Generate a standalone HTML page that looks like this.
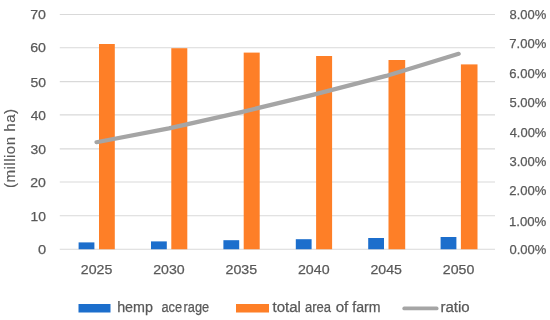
<!DOCTYPE html>
<html>
<head>
<meta charset="utf-8">
<title>hemp acerage chart</title>
<style>
html,body{margin:0;padding:0;background:#fff;}
body{width:550px;height:320px;overflow:hidden;}
svg{display:block;}
text{font-family:"Liberation Sans",sans-serif;fill:#595959;stroke:#595959;stroke-width:0.25px;}
</style>
</head>
<body>
<svg width="550" height="320" viewBox="0 0 550 320">
<rect width="550" height="320" fill="#ffffff"/>
<g stroke="#d9d9d9" stroke-width="1.1">
<line x1="59.8" x2="495" y1="249.25" y2="249.25"/>
<line x1="59.8" x2="495" y1="215.80" y2="215.80"/>
<line x1="59.8" x2="495" y1="182.00" y2="182.00"/>
<line x1="59.8" x2="495" y1="148.90" y2="148.90"/>
<line x1="59.8" x2="495" y1="114.90" y2="114.90"/>
<line x1="59.8" x2="495" y1="81.60" y2="81.60"/>
<line x1="59.8" x2="495" y1="47.70" y2="47.70"/>
<line x1="59.8" x2="495" y1="14.50" y2="14.50"/>
</g>
<g fill="#1c6ecc">
<rect x="78.6" y="242.4" width="15.8" height="6.85"/>
<rect x="151.0" y="241.4" width="15.8" height="7.85"/>
<rect x="223.4" y="240.2" width="15.8" height="9.05"/>
<rect x="295.8" y="239.2" width="15.8" height="10.05"/>
<rect x="368.2" y="238.0" width="15.8" height="11.25"/>
<rect x="440.6" y="237.0" width="15.8" height="12.25"/>
</g>
<g fill="#fe7f27">
<rect x="99.0" y="44.0" width="15.8" height="205.25"/>
<rect x="171.3" y="48.2" width="16.0" height="201.05"/>
<rect x="243.7" y="52.6" width="16.0" height="196.65"/>
<rect x="316.1" y="56.0" width="16.0" height="193.25"/>
<rect x="388.5" y="60.0" width="16.7" height="189.25"/>
<rect x="460.9" y="64.4" width="16.6" height="184.85"/>
</g>
<polyline fill="none" stroke="#a5a5a5" stroke-width="4.2" stroke-linecap="round" stroke-linejoin="round" points="96.5,142.2 168.9,128.4 241.3,112.1 313.7,94.6 386.1,75.9 458.7,53.8"/>
<text id="l0" font-size="13.6" x="37.92" y="253.90" textLength="8.15" lengthAdjust="spacingAndGlyphs">0</text>
<text id="l10" font-size="13.6" x="30.55" y="221.07" textLength="15.40" lengthAdjust="spacingAndGlyphs">10</text>
<text id="l20" font-size="13.6" x="30.30" y="186.84" textLength="15.65" lengthAdjust="spacingAndGlyphs">20</text>
<text id="l30" font-size="13.6" x="30.43" y="153.76" textLength="15.53" lengthAdjust="spacingAndGlyphs">30</text>
<text id="l40" font-size="13.6" x="30.68" y="120.04" textLength="15.28" lengthAdjust="spacingAndGlyphs">40</text>
<text id="l50" font-size="13.6" x="30.43" y="86.71" textLength="15.53" lengthAdjust="spacingAndGlyphs">50</text>
<text id="l60" font-size="13.6" x="30.18" y="52.48" textLength="15.78" lengthAdjust="spacingAndGlyphs">60</text>
<text id="l70" font-size="13.6" x="30.18" y="19.45" textLength="15.78" lengthAdjust="spacingAndGlyphs">70</text>
<text id="r0" font-size="13.6" x="509.43" y="254.40" textLength="36.90" lengthAdjust="spacingAndGlyphs">0.00%</text>
<text id="r1" font-size="13.6" x="508.93" y="225.56" textLength="37.40" lengthAdjust="spacingAndGlyphs">1.00%</text>
<text id="r2" font-size="13.6" x="509.30" y="195.47" textLength="37.02" lengthAdjust="spacingAndGlyphs">2.00%</text>
<text id="r3" font-size="13.6" x="509.43" y="165.99" textLength="36.90" lengthAdjust="spacingAndGlyphs">3.00%</text>
<text id="r4" font-size="13.6" x="509.68" y="136.55" textLength="36.65" lengthAdjust="spacingAndGlyphs">4.00%</text>
<text id="r5" font-size="13.6" x="509.43" y="107.16" textLength="36.90" lengthAdjust="spacingAndGlyphs">5.00%</text>
<text id="r6" font-size="13.6" x="509.30" y="77.93" textLength="37.02" lengthAdjust="spacingAndGlyphs">6.00%</text>
<text id="r7" font-size="13.6" x="509.30" y="48.14" textLength="37.02" lengthAdjust="spacingAndGlyphs">7.00%</text>
<text id="r8" font-size="13.6" x="509.43" y="19.45" textLength="36.90" lengthAdjust="spacingAndGlyphs">8.00%</text>
<text id="x2025" font-size="13.6" x="80.80" y="274.05" textLength="31.53" lengthAdjust="spacingAndGlyphs">2025</text>
<text id="x2030" font-size="13.6" x="153.18" y="274.05" textLength="31.52" lengthAdjust="spacingAndGlyphs">2030</text>
<text id="x2035" font-size="13.6" x="225.55" y="274.05" textLength="31.65" lengthAdjust="spacingAndGlyphs">2035</text>
<text id="x2040" font-size="13.6" x="297.93" y="274.05" textLength="31.65" lengthAdjust="spacingAndGlyphs">2040</text>
<text id="x2045" font-size="13.6" x="370.43" y="274.05" textLength="31.52" lengthAdjust="spacingAndGlyphs">2045</text>
<text id="x2050" font-size="13.6" x="442.80" y="274.05" textLength="31.52" lengthAdjust="spacingAndGlyphs">2050</text>
<text font-size="13.8" y="312.40">
<tspan id="ghemp" x="117.17" textLength="35.77" lengthAdjust="spacingAndGlyphs">hemp</tspan> 
<tspan id="gacerage" x="161.43" dx="0 0 0 1.6" textLength="47.77" lengthAdjust="spacingAndGlyphs">acerage</tspan> 
</text>
<text font-size="13.8" y="312.40">
<tspan id="gtotal" x="272.55" textLength="28.40" lengthAdjust="spacingAndGlyphs">total</tspan> 
<tspan id="garea" x="304.92" textLength="26.03" lengthAdjust="spacingAndGlyphs">area</tspan> 
<tspan id="gof" x="335.67" textLength="12.65" lengthAdjust="spacingAndGlyphs">of</tspan> 
<tspan id="gfarm" x="352.30" textLength="28.27" lengthAdjust="spacingAndGlyphs">farm</tspan> 
</text>
<text font-size="13.8" y="312.40">
<tspan id="gratio" x="440.43" textLength="29.27" lengthAdjust="spacingAndGlyphs">ratio</tspan> 
</text>
<text id="yt" font-size="15.2" style="stroke-width:0.1px" text-anchor="middle" textLength="79.20" lengthAdjust="spacing" transform="translate(15.30,148.50) rotate(-90)">(million ha)</text>
<rect x="78.5" y="304" width="32" height="8.5" fill="#1c6ecc"/>
<rect x="236" y="304" width="33" height="8.5" fill="#fe7f27"/>
<line x1="404.2" x2="436.7" y1="308.45" y2="308.45" stroke="#a5a5a5" stroke-width="3.7" stroke-linecap="round"/>
</svg>
</body>
</html>
